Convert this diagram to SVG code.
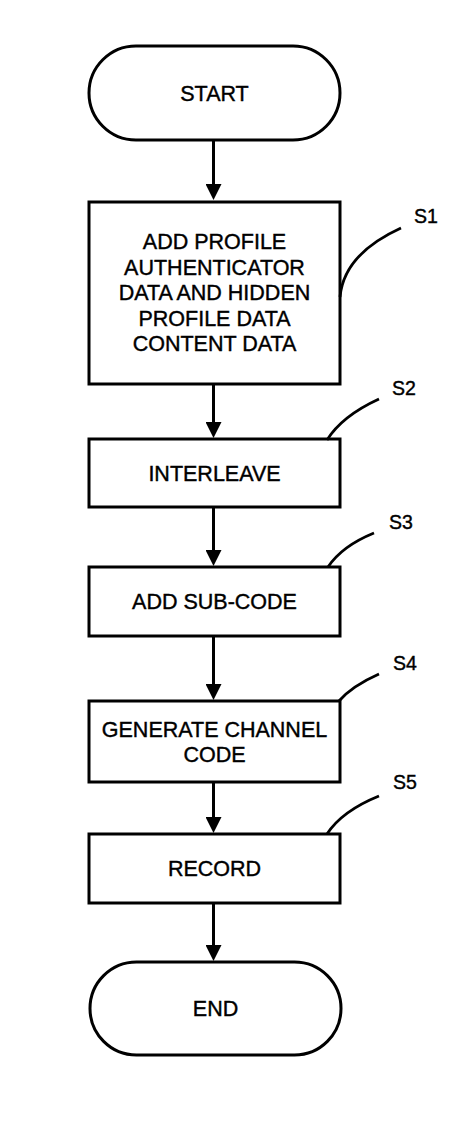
<svg xmlns="http://www.w3.org/2000/svg" width="474" height="1144" viewBox="0 0 474 1144">
<style>
.shape{fill:#fff;stroke:#000;stroke-width:3}
.t{font-family:"Liberation Sans",Arial,sans-serif;font-size:21.5px;text-anchor:middle;fill:#000;stroke:#000;stroke-width:0.4}
.lbl{font-family:"Liberation Sans",Arial,sans-serif;font-size:19.5px;fill:#000;stroke:#000;stroke-width:0.4}
.conn{stroke:#000;stroke-width:3;fill:none}
.lead{stroke:#000;stroke-width:2.8;fill:none}
</style>
<defs>
<marker id="arr" viewBox="0 0 16 16" refX="7" refY="8" markerWidth="16" markerHeight="16" markerUnits="userSpaceOnUse" orient="auto">
<path d="M0,0 L16,8 L0,16 z" fill="#000"/>
</marker>
</defs>
<rect width="474" height="1144" fill="#fff"/>
<g id="start">
<rect class="shape" x="89" y="46" width="251" height="94" rx="47" ry="47"/>
<text class="t" x="214.5" y="100.5">START</text>
</g>
<g id="s1">
<rect class="shape" x="89" y="202" width="251" height="182"/>
<text class="t" x="214.5" y="249">ADD PROFILE</text>
<text class="t" x="214.5" y="274.5">AUTHENTICATOR</text>
<text class="t" x="214.5" y="300">DATA AND HIDDEN</text>
<text class="t" x="214.5" y="325.5">PROFILE DATA</text>
<text class="t" x="214.5" y="351">CONTENT DATA</text>
</g>
<g id="s2">
<rect class="shape" x="89" y="439" width="251" height="68"/>
<text class="t" x="214.5" y="481">INTERLEAVE</text>
</g>
<g id="s3">
<rect class="shape" x="89" y="567" width="251" height="69"/>
<text class="t" x="214.5" y="609">ADD SUB-CODE</text>
</g>
<g id="s4">
<rect class="shape" x="89" y="701" width="251" height="81"/>
<text class="t" x="214.5" y="737">GENERATE CHANNEL</text>
<text class="t" x="214.5" y="762">CODE</text>
</g>
<g id="s5">
<rect class="shape" x="89" y="834" width="251" height="69"/>
<text class="t" x="214.5" y="876">RECORD</text>
</g>
<g id="end">
<rect class="shape" x="90" y="962" width="251" height="93" rx="46.5" ry="46.5"/>
<text class="t" x="215.5" y="1016">END</text>
</g>
<g id="connectors">
<line class="conn" x1="213.5" y1="140" x2="213.5" y2="191" marker-end="url(#arr)"/>
<line class="conn" x1="213.5" y1="384" x2="213.5" y2="429" marker-end="url(#arr)"/>
<line class="conn" x1="213.5" y1="507" x2="213.5" y2="557" marker-end="url(#arr)"/>
<line class="conn" x1="213.5" y1="636" x2="213.5" y2="691" marker-end="url(#arr)"/>
<line class="conn" x1="213.5" y1="782" x2="213.5" y2="824" marker-end="url(#arr)"/>
<line class="conn" x1="213.5" y1="903" x2="213.5" y2="952" marker-end="url(#arr)"/>
</g>
<g id="labels">
<path class="lead" d="M340,297 Q344,254 401,228"/>
<text class="lbl" x="414" y="223">S1</text>
<path class="lead" d="M327,440 Q342,416 379,399"/>
<text class="lbl" x="392" y="395">S2</text>
<path class="lead" d="M328,567 Q342,546 374,533"/>
<text class="lbl" x="389" y="529">S3</text>
<path class="lead" d="M339,701 Q352,686 379,674"/>
<text class="lbl" x="393" y="670">S4</text>
<path class="lead" d="M327,834 Q342,811 379,796"/>
<text class="lbl" x="393" y="789">S5</text>
</g>
</svg>
